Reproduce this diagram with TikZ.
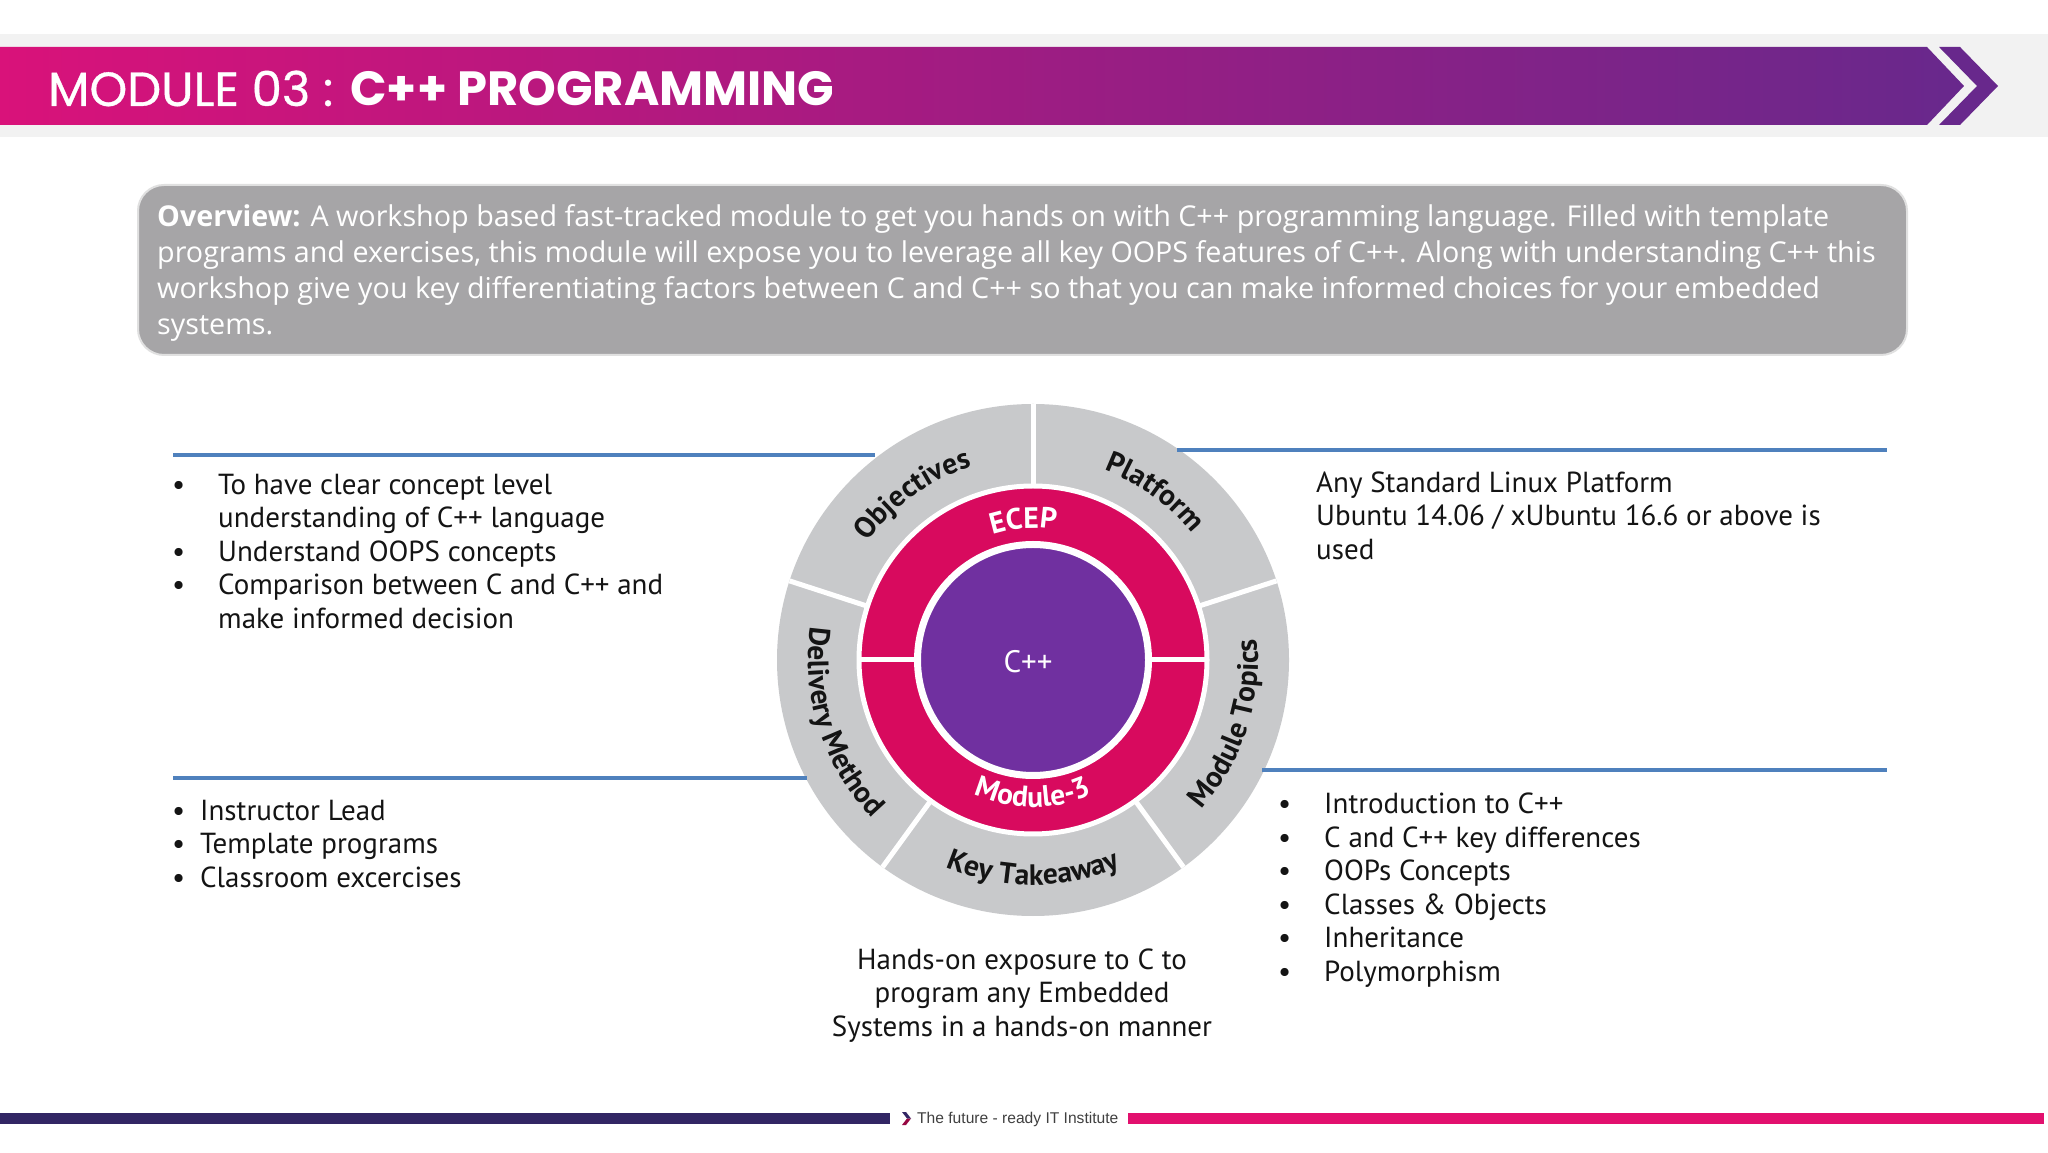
\documentclass[tikz,border=0pt]{standalone}
\usepackage{pgf,tikz}
\usepackage{fontspec}
\usetikzlibrary{decorations.text}
\newfontfamily\ptsans{PT Sans}
\newfontfamily\opensans{Open Sans}
\newfontfamily\poppins{Poppins}
\newfontfamily\poppinsmid[FakeBold=0.7]{Poppins}
\newfontfamily\libsans{Liberation Sans}
\definecolor{barpink}{RGB}{217,18,122}
\definecolor{barmid}{RGB}{160,28,130}
\definecolor{barpurple}{RGB}{104,40,140}
\definecolor{bandgray}{RGB}{242,242,242}
\definecolor{boxgray}{RGB}{166,165,167}
\definecolor{ringgray}{RGB}{200,201,203}
\definecolor{ringpink}{RGB}{216,10,94}
\definecolor{corepurple}{RGB}{112,48,160}
\definecolor{rulerblue}{RGB}{79,129,189}
\definecolor{footnavy}{RGB}{50,38,100}
\definecolor{footpink}{RGB}{226,16,110}
\definecolor{inktext}{RGB}{20,20,20}
\newcommand{\bodyfont}{\ptsans\fontsize{29}{33.5}\selectfont}
\newcommand{\ringfont}{\ptsans\bfseries\fontsize{29.5}{29.5}\selectfont}
\newcommand{\hubfont}{\ptsans\bfseries\fontsize{29.5}{29.5}\selectfont}
\newcommand{\bul}{\makebox[46pt][l]{\textbullet}}
\newcommand{\bulnarrow}{\makebox[28pt][l]{\textbullet}}
\tikzset{
  bodytext/.style={inner sep=0pt,anchor=north west,align=left,text=inktext,font=\bodyfont},
  ruler/.style={draw=rulerblue,line width=4.5pt},
  ringlabel/.style={decorate,decoration={text along path,text align=center,text color=inktext,text={|\ringfont|#1}}},
  hublabel/.style={decorate,decoration={text along path,text align=center,text color=white,text={|\hubfont|#1}}}
}

\begin{document}
\begin{tikzpicture}[x=1pt,y=1pt]
\useasboundingbox (0,0) rectangle (2048,1152);
\fill [white] (0,0) rectangle (2048,1152);
\fill [bandgray] (0,1015) rectangle (2048,1118);
\shade [left color=barpink,right color=barpurple,middle color=barmid] (0,1027) -- (1927,1027) -- (1964,1066) -- (1927,1105) -- (0,1105) -- cycle;
\fill [barpurple] (1939,1027) -- (1960,1027) -- (1998,1066) -- (1960,1105) -- (1939,1105) -- (1977,1066) -- cycle;
\node (title) [anchor=base west,inner sep=0pt,text=white,font=\fontsize{48}{48}\selectfont] at (48,1046) {\poppinsmid MODULE 03 : \poppins\bfseries C++ PROGRAMMING};

\draw [fill=boxgray,draw=black!12,line width=2pt,rounded corners=26pt] (138,797) rectangle (1907,967);
\node (overview) [inner sep=0pt,anchor=north west,align=left,text=white,font=\opensans\fontsize{28.7}{36}\selectfont] at (157,951) {\strut\textbf{Overview:} A workshop based fast-tracked module to get you hands on with C++ programming language. Filled with template\\programs and exercises, this module will expose you to leverage all key OOPS features of C++. Along with understanding C++ this\\workshop give you key differentiating factors between C and C++ so that you can make informed choices for your embedded\\systems.};

\coordinate (hub) at (1033,492);
\fill [ringgray] (hub) circle [radius=256];
\foreach \a in {18,90,162,234,306}
  \draw [white,line width=5pt] (hub) -- ++(\a:256);
\draw [fill=ringpink,draw=white,line width=5pt] (hub) circle [radius=174];
\draw [white,line width=5pt] ([xshift=-176pt]hub) -- ([xshift=176pt]hub);
\draw [fill=corepurple,draw=white,line width=7pt] (hub) circle [radius=115.5];
\node (core) [text=white,font=\ptsans\fontsize{31}{31}\selectfont] at (1028,490) {C++};

\path [ringlabel=Objectives] ([shift={(162:203)}]hub) arc [start angle=162,end angle=90,radius=203];
\path [ringlabel=Platform] ([shift={(90:203)}]hub) arc [start angle=90,end angle=18,radius=203];
\path [ringlabel=Module Topics] ([shift={(306:225)}]hub) arc [start angle=306,end angle=378,radius=225];
\path [ringlabel=Key Takeaway] ([shift={(234:225)}]hub) arc [start angle=234,end angle=306,radius=225];
\path [ringlabel=Delivery Method] ([shift={(162:225)}]hub) arc [start angle=162,end angle=234,radius=225];
\path [hublabel=ECEP] ([shift={(154:132)}]hub) arc [start angle=154,end angle=34,radius=132];
\path [hublabel=Module-3] ([shift={(210:147)}]hub) arc [start angle=210,end angle=330,radius=147];

\draw [ruler] (173,697) -- (875,697);
\draw [ruler] (1177,702) -- (1887,702);
\draw [ruler] (173,374) -- (807,374);
\draw [ruler] (1262,382) -- (1887,382);

\node (objectives) [bodytext] at (172,681.5) {\strut\bul To have clear concept level\\\hspace*{46pt}understanding of C++ language\\\bul Understand OOPS concepts\\\bul Comparison between C and C++ and\\\hspace*{46pt}make informed decision};
\node (platform) [bodytext] at (1316,683.5) {\strut Any Standard Linux Platform\\Ubuntu 14.06 / xUbuntu 16.6 or above is\\used};
\node (delivery) [bodytext] at (172,355.5) {\strut\bulnarrow Instructor Lead\\\bulnarrow Template programs\\\bulnarrow Classroom excercises};
\node (topics) [bodytext] at (1278,362) {\strut\bul Introduction to C++\\\bul C and C++ key differences\\\bul OOPs Concepts\\\bul Classes \& Objects\\\bul Inheritance\\\bul Polymorphism};
\node (takeaway) [bodytext,anchor=north,align=center] at (1022,206.5) {\strut Hands-on exposure to C to\\program any Embedded\\Systems in a hands-on manner};

\fill [footnavy] (0,28) rectangle (890,39);
\fill [footpink] (1128,28) rectangle (2044,39);
\fill [footnavy] (902,40) -- (906,40) -- (911,33.5) -- (907,33.5) -- cycle;
\fill [ringpink!70!black] (907,33.5) -- (911,33.5) -- (906,27) -- (902,27) -- cycle;
\node (tagline) [anchor=base west,inner sep=0pt,text=black!75,font=\libsans\fontsize{15.6}{15.6}\selectfont] at (917,29) {The future - ready IT Institute};
\end{tikzpicture}
\end{document}
